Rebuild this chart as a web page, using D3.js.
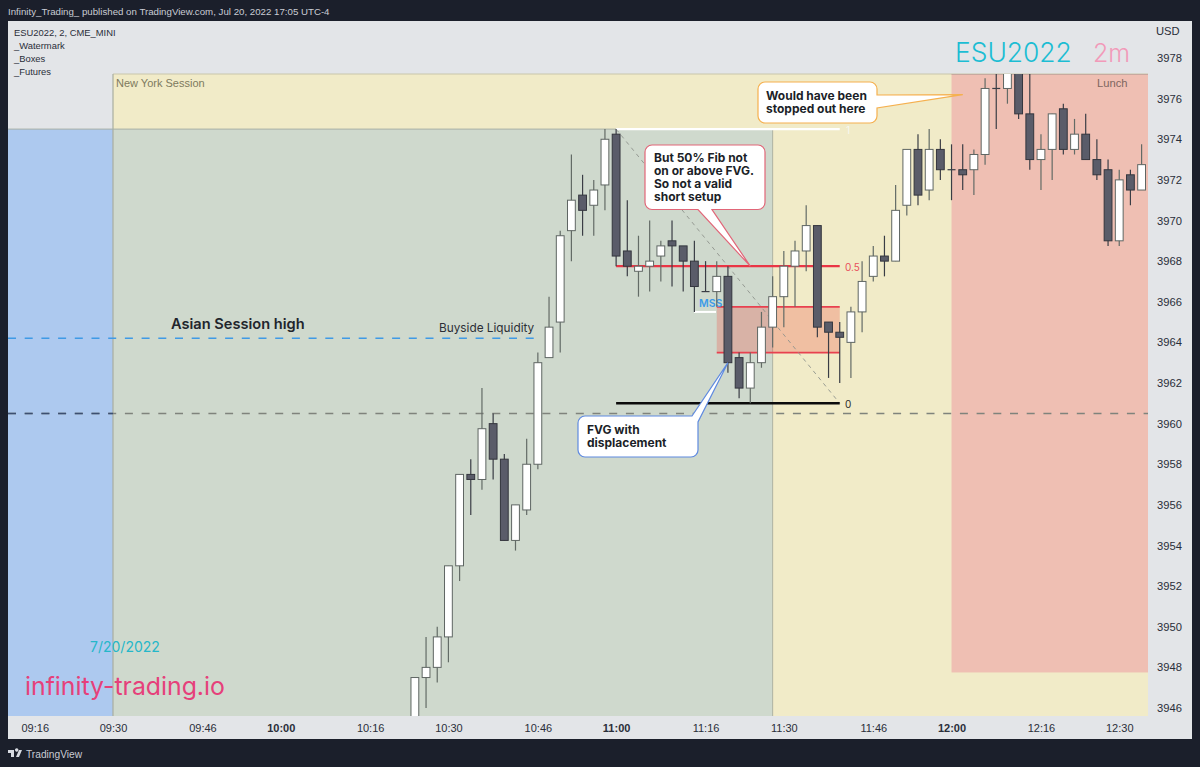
<!DOCTYPE html>
<html><head><meta charset="utf-8">
<script src="https://cdnjs.cloudflare.com/ajax/libs/d3/7.8.5/d3.min.js"></script>
<style>html,body{margin:0;padding:0;background:#1b1f2b;overflow:hidden}svg{display:block}text{font-family:Inter,"Noto Sans",sans-serif}</style>
</head><body><svg id="c" width="1200" height="767"></svg>
<script>
// bar index runs from 09:30 = 0, one bar = 2 minutes
const firstBar = 27;
const opens  = [3945.25,3947.5,3948,3949.5,3953,3957.5,3957.25,3960,3958.25,3954.25,3955.75,3958,3963.25,3965,3969.5,3971.25,3970.75,3971.75,3974.25,3968.5,3967.5,3967.75,3968.25,3969,3968.75,3968,3966.5,3966.5,3967.25,3963.25,3961.75,3963,3964.75,3966.25,3967.75,3968.5,3969.75,3965,3964.5,3964,3965.5,3967.25,3968.25,3968,3970.75,3973.5,3971.5,3973.5,3972.5,3972.5,3972.5,3973.25,3976.5,3976.5,3977.5,3975.25,3973,3973.5,3975.5,3973.5,3974.25,3973,3972.5,3969,3972.25,3971.5];
const highs  = [3947.5,3949.5,3950,3953,3957.5,3958.25,3961.75,3960.5,3958.5,3956,3959.25,3963.5,3966.25,3969.5,3973.25,3972.25,3972,3974.5,3974.5,3971,3969.25,3970,3969,3970,3968.75,3969,3968,3968,3967.75,3963.5,3963.5,3965.5,3967.25,3968.5,3969,3970.75,3969.75,3965,3965,3965.75,3968,3968.75,3969.25,3971.75,3973.5,3974.25,3974.5,3974,3973.75,3973.75,3973.5,3977,3977.5,3977.75,3977.75,3977.5,3974.25,3975.25,3975.75,3975,3975.25,3974,3973,3972.5,3972.5,3973.75];
const lows   = [3945,3946,3947.25,3948.25,3952.25,3955.5,3956.75,3957.25,3954.25,3953.75,3955.5,3957.75,3963.25,3963.5,3968,3969.25,3969.25,3970.5,3967.75,3967.25,3966.25,3966.5,3967,3966.75,3966.5,3965.5,3966.5,3965.75,3962.5,3961.25,3961,3962.75,3963.75,3964.75,3965.75,3967.5,3964.25,3962.25,3962,3962.25,3964.5,3967,3967.25,3968,3970.25,3970.75,3971,3972,3971,3971.5,3971.25,3972.75,3974.5,3975.75,3975,3972.5,3971.5,3972,3973.25,3973.25,3973,3972,3968.75,3968.75,3970.75,3971.5];
const closes = [3947.5,3948,3949.5,3953,3957.5,3957.25,3959.75,3958.25,3954.25,3956,3958,3963,3964.75,3969.25,3971,3970.5,3971.5,3974,3968.25,3967.75,3967.75,3968,3968.75,3968.75,3968,3966.75,3966.5,3967.25,3963,3961.75,3963,3964.75,3966.25,3967.75,3968.5,3969.75,3964.75,3964.5,3964.25,3965.5,3967,3968.25,3968,3970.5,3973.5,3971.25,3973.5,3972.5,3972.5,3972.25,3973.25,3976.5,3976.5,3977.5,3975.25,3973,3973.5,3975.25,3973.5,3974.25,3973,3972.25,3969,3972,3971.5,3972.75];
const priceTicks = [3946,3948,3950,3952,3954,3956,3958,3960,3962,3964,3966,3968,3970,3972,3974,3976,3978];
const timeTicks  = [556,570,586,600,616,630,646,660,676,690,706,720,736,750];
const boldTimes  = [600,660,720];
const legendLines = ["ESU2022, 2, CME_MINI","_Watermark","_Boxes","_Futures"];
const callout1 = ["Would have been","stopped out here"];
const callout2 = ["But 50% Fib not","on or above FVG.","So not a valid","short setup"];
const callout3 = ["FVG with","displacement"];
// key levels and session times
const sessionOpen = 570, fvgStart = 678, fvgEnd = 700, fibStart = 660, greenEnd = 688, lunchStart = 720;
const fibHigh = 3974.5, fibMid = 3967.75, fibLow = 3961, fvgTop = 3965.75, fvgBottom = 3963.5;
const asianHigh = 3964.2, lowerLevel = 3960.5, lunchBottom = 3947.75;

const svg = d3.select('#c');
const pane = {l:8,r:1148,t:21,b:716};
const x = d3.scaleLinear().domain([570,754]).range([113,1141.6]);
const y = d3.scaleLinear().domain([3946,3978]).range([708,58]);
const topY = 74, dividerY = y(fibHigh);
const fmt = m => String(Math.floor(m/60)).padStart(2,'0')+':'+String(m%60).padStart(2,'0');
const NARROW = '"Liberation Sans",Arial,sans-serif';

const rect=(l,t,r,b,f,extra={})=>{const s=svg.append('rect').attr('x',l).attr('y',t).attr('width',r-l).attr('height',b-t).attr('fill',f);for(const k in extra)s.attr(k,extra[k]);return s;};
const line=(x1,y1,x2,y2,c,w,dash)=>svg.append('line').attr('x1',x1).attr('y1',y1).attr('x2',x2).attr('y2',y2).attr('stroke',c).attr('stroke-width',w).attr('stroke-dasharray',dash||null);
const text=(s,tx,ty,size,c,weight,anchor)=>svg.append('text').attr('x',tx).attr('y',ty).attr('font-size',size).attr('fill',c).attr('font-weight',weight||400).attr('text-anchor',anchor||'start').text(s);
const small=(s,tx,ty,size,c)=>text(s,tx,ty,size,c).style('font-family',NARROW);

// panel
rect(8,21,1192,739,'#e3e5e8');
// session boxes
rect(x(sessionOpen),topY,pane.r,pane.b,'#f1ebc8');
rect(x(sessionOpen),dividerY,x(greenEnd),pane.b,'#cfd9cd');
rect(pane.l,dividerY,x(sessionOpen),pane.b,'#adc9ef');
rect(x(lunchStart),topY,pane.r,y(lunchBottom),'#efbfb3');
line(x(sessionOpen),topY,pane.r,topY,'#c9c6ab',1);
line(x(sessionOpen),topY,x(sessionOpen),pane.b,'#a9ad9f',1.2);
line(pane.l,dividerY,x(greenEnd),dividerY,'#a7afa6',1);
line(x(greenEnd),dividerY,x(greenEnd),pane.b,'#aeb3a2',1);
rect(x(lunchStart),topY,pane.r,topY+1,'#c8a99f');

// watermarks
text('ESU2022',955,62,26.4,'#1cbdd3',300);
text('2m',1093,62,25,'#f29ab9',300);
text('7/20/2022',90,652,14,'#25b7c9',400);
text('infinity-trading.io',25,695,24.8,'#e6407a',400);
small('New York Session',116,87,11,'#7d7a5e');
small('Lunch',1097,87,11.2,'#7d6660');

// FVG box
rect(x(fvgStart),y(fvgTop),x(fvgEnd),y(fvgBottom),'#ee5a4c',{opacity:.3});
line(x(fvgStart),y(fvgTop),x(fvgEnd),y(fvgTop),'#e8414f',1.8);
line(x(fvgStart),y(fvgBottom),x(fvgEnd),y(fvgBottom),'#e8414f',1.8);

// level lines
line(pane.l,y(lowerLevel),pane.r,y(lowerLevel),'#7f837c',1.6,'8 8.7');
line(pane.l,y(lowerLevel),x(sessionOpen),y(lowerLevel),'#3c4f72',1.6,'8 8.7');
line(pane.l,y(asianHigh),535,y(asianHigh),'#3f9ae6',1.6,'8 8.7');
text('Asian Session high',171,329,14.6,'#22252c',600);
text('Buyside Liquidity',439,332,11.8,'#2b2e36',400);

// fib
line(x(fibStart),y(fibHigh),x(fvgEnd),y(fibLow),'#8f938c',.9,'4 4');
line(x(fibStart),y(fibHigh),x(fvgEnd),y(fibHigh),'#ffffff',2.2);
line(x(fibStart),y(fibMid),x(fvgEnd),y(fibMid),'#ea3545',2.2);
line(x(fibStart),y(fibLow),x(fvgEnd),y(fibLow),'#0b0b0b',2.4);
text('1',846,134,10,'#f7f7f0');
text('0.5',845,271,10,'#e8505c');
text('0',845,408,10,'#2a2a2a');

// MSS
line(694,y(3965.5),716,y(3965.5),'#ffffff',2);
text('MSS',699,307,10.5,'#3d9be8',600);

// candles
svg.append('defs').append('clipPath').attr('id','pc').append('rect')
  .attr('x',pane.l).attr('y',topY).attr('width',pane.r-pane.l).attr('height',pane.b-topY);
const bars = opens.map((o,i)=>({m:570+2*(firstBar+i),o,h:highs[i],l:lows[i],c:closes[i]}));
const g = svg.append('g').attr('clip-path','url(#pc)');
const isUp=d=>d.c>d.o, isFlat=d=>d.c===d.o;
g.selectAll('line.w').data(bars).join('line').attr('class','w')
 .attr('x1',d=>x(d.m)).attr('x2',d=>x(d.m)).attr('y1',d=>y(d.h)).attr('y2',d=>y(d.l))
 .attr('stroke',d=>isUp(d)?'#636b66':'#3a3d45').attr('stroke-width',1.2);
g.selectAll('rect.b').data(bars.filter(d=>!isFlat(d))).join('rect').attr('class','b')
 .attr('x',d=>x(d.m)-3.9).attr('width',7.8)
 .attr('y',d=>y(Math.max(d.o,d.c))).attr('height',d=>Math.abs(y(d.o)-y(d.c)))
 .attr('fill',d=>isUp(d)?'#ffffff':'#5a5c69').attr('stroke',d=>isUp(d)?'#5f6663':'#34363e').attr('stroke-width',1);
g.selectAll('line.d').data(bars.filter(isFlat)).join('line').attr('class','d')
 .attr('x1',d=>x(d.m)-4).attr('x2',d=>x(d.m)+4).attr('y1',d=>y(d.o)).attr('y2',d=>y(d.o))
 .attr('stroke','#3a3d45').attr('stroke-width',1.2);

// axes
const xa = svg.append('g').attr('transform',`translate(0,${pane.b})`)
  .call(d3.axisBottom(x).tickValues(timeTicks).tickSize(0).tickFormat(fmt));
xa.select('.domain').remove();
xa.selectAll('text').attr('y',8).attr('dy','.71em').attr('font-size',11).attr('fill','#2a2e39')
  .style('font-family',NARROW)
  .attr('font-weight',d=>boldTimes.includes(d)?700:400);
const ya = svg.append('g').attr('transform','translate(1148,0)')
  .call(d3.axisRight(y).tickValues(priceTicks).tickSize(0).tickFormat(d3.format('d')));
ya.select('.domain').remove();
ya.selectAll('text').attr('x',9).attr('font-size',11.2).attr('fill','#2a2e39').style('font-family',NARROW);
small('USD',1156,35,11.2,'#2a2e39');
legendLines.forEach((s,i)=>small(s,14,36+13*i,9.4,'#2a2e39'));

// callouts: rounded box outline with pointer
function callout(l,t,r,b,rad,outline,stroke,lines,tx,ty,lh){
  const p=d3.path();
  p.moveTo(l+rad,t);
  if(outline.top){p.lineTo(outline.top[0],t);p.lineTo(outline.tip[0],outline.tip[1]);
    if(outline.corner){p.lineTo(r,outline.corner);}else{p.lineTo(outline.top[1],t);}}
  if(!outline.corner){p.lineTo(r-rad,t);p.arcTo(r,t,r,t+rad,rad);}
  if(outline.right){p.lineTo(r,outline.right[0]);p.lineTo(outline.tip[0],outline.tip[1]);p.lineTo(r,outline.right[1]);}
  p.lineTo(r,b-rad);p.arcTo(r,b,r-rad,b,rad);
  if(outline.bottom){p.lineTo(outline.bottom[1],b);p.lineTo(outline.tip[0],outline.tip[1]);p.lineTo(outline.bottom[0],b);}
  p.lineTo(l+rad,b);p.arcTo(l,b,l,b-rad,rad);p.lineTo(l,t+rad);p.arcTo(l,t,l+rad,t,rad);p.closePath();
  svg.append('path').attr('d',p.toString()).attr('fill','#fff').attr('stroke',stroke).attr('stroke-width',1.2);
  const t0=svg.append('text').attr('font-size',12).attr('font-weight',700).attr('fill','#1c1f28');
  lines.forEach((s,i)=>t0.append('tspan').attr('x',tx).attr('y',ty+i*lh).text(s));
}
callout(758,82,877,123,7,{right:[95,108],tip:[x(722),y(3976.2)]},'#f5b04f',callout1,766,100,13);
callout(645,145,765,209.5,7,{bottom:[698,712],tip:[x(684),y(fibMid)]},'#e16678',callout2,654,161.5,13);
callout(578,416,698,457,7,{top:[692],corner:422,tip:[x(680),y(3963)]},'#5f8ae0',callout3,587,434,13);

// header + footer
small('Infinity_Trading_ published on TradingView.com, Jul 20, 2022 17:05 UTC-4',8,15,9.7,'#c9ccd4');
small('TradingView',26,758,10.2,'#c9ccd4');
svg.append('path').attr('d','M8 750h6v7h-3v-4H8zM15 750a1.7 1.7 0 1 1 0 .01zM19 750h3l-3 7h-3z').attr('fill','#d8dbe2');
</script></body></html>
